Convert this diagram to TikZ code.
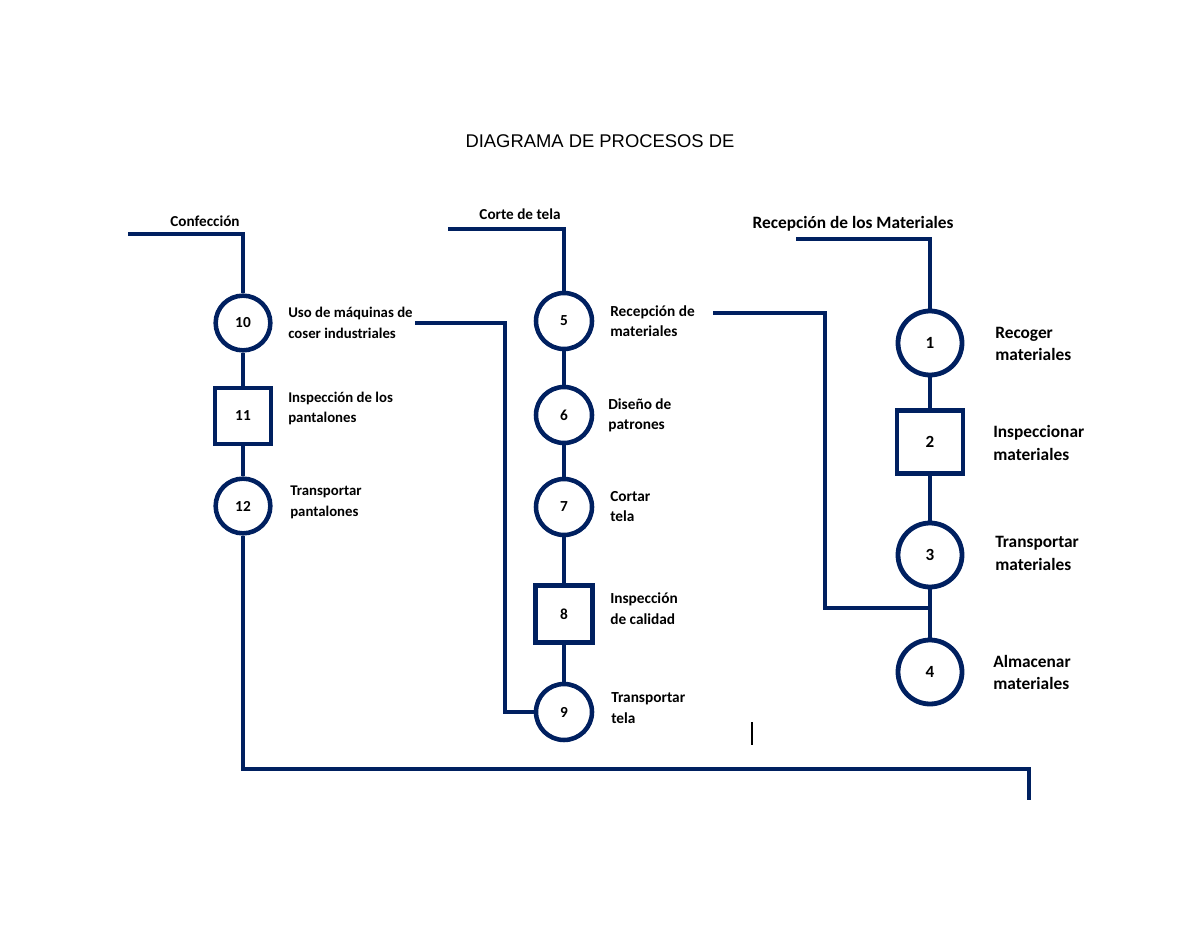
\documentclass[tikz,border=0pt]{standalone}
\usepackage{fontspec}
\setmainfont{Carlito}
\newfontfamily\titlefont{Liberation Sans}
\definecolor{navy}{RGB}{0,32,96}
\begin{document}
\begin{tikzpicture}[x=0.75pt,y=-0.75pt,
  flow/.style={draw=navy,line width=3.4pt,line join=miter},
  numfontL/.style={font=\bfseries\fontsize{11.5}{13}\selectfont},
  numfontR/.style={font=\bfseries\fontsize{12.8}{14}\selectfont},
  opc/.style={circle,draw=navy,line width=3.4pt,fill=white,minimum size=41pt,inner sep=0pt,numfontL},
  opcR/.style={circle,draw=navy,line width=3.6pt,fill=white,minimum size=48pt,inner sep=0pt,numfontR},
  insp/.style={rectangle,draw=navy,line width=3.4pt,fill=white,minimum width=42pt,minimum height=42pt,inner sep=0pt,numfontL},
  labL/.style={anchor=west,align=left,inner sep=0pt,font=\bfseries\fontsize{11.1}{15.6}\selectfont},
  labM/.style={anchor=west,align=left,inner sep=0pt,font=\bfseries\fontsize{11.5}{15.3}\selectfont},
  labR/.style={anchor=west,align=left,inner sep=0pt,font=\bfseries\fontsize{13}{16.8}\selectfont},
  head/.style={inner sep=0pt,font=\bfseries\fontsize{11.4}{13}\selectfont},
  headR/.style={inner sep=0pt,font=\bfseries\fontsize{13}{15}\selectfont}]
\useasboundingbox (0,0) rectangle (1200,927);

% title
\node[inner sep=0pt,font=\titlefont\fontsize{13.8}{16}\selectfont] (title) at (600,141) {DIAGRAMA DE PROCESOS DE};

% headers
\node[head] (hConf) at (205,221) {Confección};
\node[head] (hCorte) at (520,214) {Corte de tela};
\node[headR] (hRec) at (853,224) {Recepción de los Materiales};

% left column
\node[opc] (c10) at (243,323) {10};
\node[insp] (s11) at (243,416) {11};
\node[opc] (c12) at (243,506) {12};
\node[labL] (l10) at (288,322.5) {Uso de máquinas de\\coser industriales};
\node[labL] (l11) at (288,408.5) {Inspección de los\\pantalones};
\node[labL] (l12) at (290,502.5) {Transportar\\pantalones};

% middle column
\node[opc,minimum size=42pt] (c5) at (564,321) {5};
\node[opc,minimum size=42pt] (c6) at (564,415) {6};
\node[opc,minimum size=42pt] (c7) at (564,507) {7};
\node[insp,minimum width=43pt,minimum height=43pt] (s8) at (564,614) {8};
\node[opc,minimum size=42pt] (c9) at (564,712) {9};
\node[labM] (l5) at (610,321) {Recepción de\\materiales};
\node[labM] (l6) at (608,415.5) {Diseño de\\patrones};
\node[labM] (l7) at (610,506.5) {Cortar\\tela};
\node[labM] (l8) at (610,608.5) {Inspección\\de calidad};
\node[labM] (l9) at (611,708) {Transportar\\tela};

% right column
\node[opcR] (c1) at (930,343) {1};
\node[insp,line width=3.6pt,minimum width=49.5pt,minimum height=47pt,numfontR] (s2) at (930,442) {2};
\node[opcR] (c3) at (930,555) {3};
\node[opcR] (c4) at (930,672) {4};
\node[labR] (l1) at (995,344) {Recoger\\materiales};
\node[labR] (l2) at (993,443) {Inspeccionar\\materiales};
\node[labR] (l3) at (995,553.5) {Transportar\\materiales};
\node[labR] (l4) at (993,672.5) {Almacenar\\materiales};

% coordinates for free ends and corners
\coordinate (h10) at (128,234);
\coordinate (hm) at (448,229);
\coordinate (hr) at (796,239);
\coordinate (a1) at (415,323);
\coordinate (a2) at (505,500);
\coordinate (m1) at (713,313);
\coordinate (m2) at (825,450);
\coordinate (jn) at (930,608);
\coordinate (b1) at (1029,769);
\coordinate (b2) at (1029,800);
\coordinate (cur1) at (752,722);
\coordinate (cur2) at (752,745);

% connectors
\draw[flow] (h10) -| (c10);
\draw[flow] (hm) -| (c5);
\draw[flow] (hr) -| (c1);
\draw[flow] (c10) -- (s11);
\draw[flow] (s11) -- (c12);
\draw[flow] (c5) -- (c6);
\draw[flow] (c6) -- (c7);
\draw[flow] (c7) -- (s8);
\draw[flow] (s8) -- (c9);
\draw[flow] (c1) -- (s2);
\draw[flow] (s2) -- (c3);
\draw[flow] (c3) -- (c4);
\draw[flow] (c12) |- (b1) -- (b2);
\draw[flow] (a1) -| (a2) |- (c9);
\draw[flow] (m1) -| (m2) |- (jn);
\draw[black,line width=0.8pt] (cur1) -- (cur2);
\end{tikzpicture}
\end{document}
